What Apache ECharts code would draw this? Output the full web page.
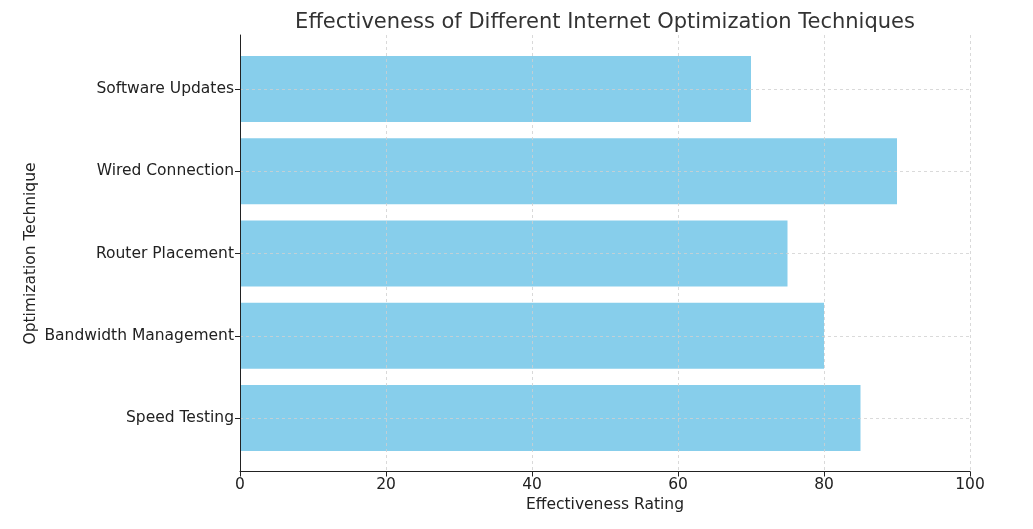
<!DOCTYPE html>
<html>
<head>
<meta charset="utf-8">
<script src="https://cdn.jsdelivr.net/npm/echarts@6/dist/echarts.min.js"></script>
<style>
  html, body { margin: 0; padding: 0; background: #fff; }
  #chart { width: 1033px; height: 529px; }
</style>
</head>
<body>
<div id="chart"></div>
<script>
const techniques = ['Speed Testing', 'Bandwidth Management', 'Router Placement', 'Wired Connection', 'Software Updates'];
const ratings = [85, 80, 75, 90, 70];
const ratingTicks = { min: 0, max: 100, interval: 20 };

const chart = echarts.init(document.getElementById('chart'));
const font = 'DejaVu Sans';
const gridLine = { show: true, lineStyle: { color: '#d0d0d0', width: 0.8, type: [3, 3] } };

chart.setOption({
  animation: false,
  textStyle: { fontFamily: font },
  title: {
    text: 'Effectiveness of Different Internet Optimization Techniques',
    left: 600,
    textAlign: 'center',
    top: 7,
    textStyle: { fontFamily: font, fontSize: 21, fontWeight: 'normal', color: '#333' }
  },
  grid: [
    // bars: category centres sit on the grid edges
    { left: 240, right: 63, top: 89, bottom: 111, containLabel: false },
    // frame: full axes box
    { left: 240, right: 63, top: 35, bottom: 57.5, containLabel: false }
  ],
  xAxis: [
    {
      gridIndex: 0, type: 'value', min: ratingTicks.min, max: ratingTicks.max, interval: ratingTicks.interval,
      show: false
    },
    {
      gridIndex: 1, type: 'value', min: ratingTicks.min, max: ratingTicks.max, interval: ratingTicks.interval,
      z: 5,
      name: 'Effectiveness Rating', nameLocation: 'middle', nameGap: 24,
      nameTextStyle: { fontFamily: font, fontSize: 15.5, color: '#222' },
      axisLine: { show: true, lineStyle: { color: '#222', width: 1 } },
      axisTick: { show: true, length: 5, lineStyle: { color: '#222' } },
      axisLabel: { fontFamily: font, fontSize: 15.5, color: '#222', margin: 5 },
      splitLine: gridLine
    }
  ],
  yAxis: [
    {
      gridIndex: 0, type: 'category', data: techniques, boundaryGap: false,
      z: 5,
      name: 'Optimization Technique', nameLocation: 'middle', nameGap: 201,
      nameMoveOverlap: false,
      nameTextStyle: { fontFamily: font, fontSize: 15.5, color: '#222' },
      axisLine: { show: false },
      axisTick: { show: true, length: 5, alignWithLabel: true, lineStyle: { color: '#222' } },
      axisLabel: { fontFamily: font, fontSize: 15.5, color: '#222', margin: 6 },
      splitLine: gridLine
    },
    {
      gridIndex: 1, type: 'value', min: 0, max: 1,
      z: 5,
      axisLine: { show: true, lineStyle: { color: '#222', width: 1 } },
      axisTick: { show: false },
      axisLabel: { show: false },
      splitLine: { show: false }
    }
  ],
  series: [
    {
      type: 'bar',
      xAxisIndex: 0,
      yAxisIndex: 0,
      data: ratings,
      barWidth: 66,
      itemStyle: { color: '#87ceeb' }
    }
  ]
});
</script>
</body>
</html>
